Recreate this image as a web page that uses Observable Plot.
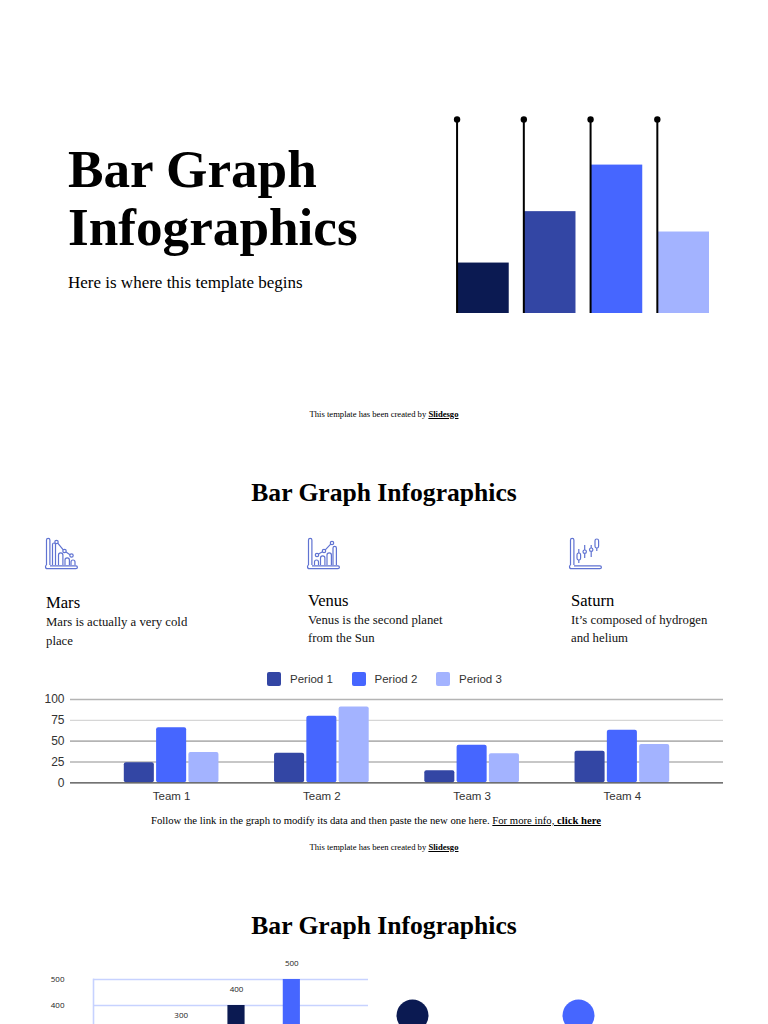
<!DOCTYPE html>
<html>
<head>
<meta charset="utf-8">
<script src="https://cdn.jsdelivr.net/npm/d3@7"></script>
<script src="https://cdn.jsdelivr.net/npm/@observablehq/plot@0.6"></script>
<style>
html,body{margin:0;padding:0;background:#fff;}
#page{position:relative;width:768px;height:1024px;overflow:hidden;background:#fff;font-family:"Liberation Serif",serif;color:#000;}
.t{position:absolute;white-space:nowrap;line-height:1;}
.c{left:0;width:768px;text-align:center;}
.chart{position:absolute;}
.chart svg{display:block;}
.sw{position:absolute;width:14px;height:14px;border-radius:2px;top:672px;}
.lg{position:absolute;top:671.5px;font:11.5px/14px "Liberation Sans",sans-serif;color:#333;white-space:nowrap;}
u{text-underline-offset:1px;}
.ic{position:absolute;fill:none;stroke:#6073d2;stroke-width:1.2;}
</style>
</head>
<body>
<div id="page">
  <div class="t" style="left:68px;top:141px;font-size:53.2px;font-weight:bold;line-height:58px;">Bar Graph<br>Infographics</div>
  <div class="t" style="left:68px;top:274px;font-size:17px;">Here is where this template begins</div>
  <div class="t c" style="top:410px;font-size:8.6px;">This template has been created by <b><u>Slidesgo</u></b></div>

  <div class="t c" style="top:480px;font-size:25.6px;font-weight:bold;">Bar Graph Infographics</div>

  <svg class="ic" style="left:44px;top:536px" width="36" height="36" viewBox="0 0 36 36">
    <path d="M2.5 29V4a1.7 1.7 0 0 1 3.4 0V29"/><path d="M2.5 29a2 2 0 0 0-1 1.7 2 2 0 0 0 2 2H32a1.4 1.4 0 0 0 0-2.8H6"/>
    <path d="M8.5 29V8.5a1.5 1.5 0 0 1 3 0V29M14.5 29V19a2.2 2.2 0 0 1 4.4 0V29M21 29V24a2.2 2.2 0 0 1 4.4 0V29M27 29V26a2 2 0 0 1 4 0V29"/>
    <circle cx="12.5" cy="6" r="1.7"/><circle cx="20.5" cy="15" r="1.7"/><circle cx="27.5" cy="19.5" r="1.7"/><path d="M13.7 7.2 19.3 13.8M22 16 26 18.7"/>
  </svg>
  <svg class="ic" style="left:306px;top:536px" width="36" height="36" viewBox="0 0 36 36">
    <path d="M2.5 29V4a1.7 1.7 0 0 1 3.4 0V29"/><path d="M2.5 29a2 2 0 0 0-1 1.7 2 2 0 0 0 2 2H32a1.4 1.4 0 0 0 0-2.8H6"/>
    <path d="M8.5 29V26a2 2 0 0 1 4 0V29M14.5 29V22a2.2 2.2 0 0 1 4.4 0V29M21 29V19a2.2 2.2 0 0 1 4.4 0V29M27 29V12a1.7 1.7 0 0 1 3.4 0V29"/>
    <circle cx="11" cy="19" r="1.7"/><circle cx="18" cy="15" r="1.7"/><circle cx="26" cy="7" r="1.7"/><path d="M12.5 18 16.5 15.8M19.3 13.8 24.7 8.2"/>
  </svg>
  <svg class="ic" style="left:568px;top:536px" width="36" height="36" viewBox="0 0 36 36">
    <path d="M2.5 29V4a1.7 1.7 0 0 1 3.4 0V29"/><path d="M2.5 29a2 2 0 0 0-1 1.7 2 2 0 0 0 2 2H32a1.4 1.4 0 0 0 0-2.8H6"/>
    <rect x="9" y="17" width="3.6" height="7" rx="1.8"/><path d="M10.8 13V17M10.8 24V27"/>
    <rect x="15" y="14" width="3.4" height="3.4" rx="1.7"/><path d="M16.7 9V14M16.7 17.4V22"/>
    <rect x="21.5" y="12" width="3.4" height="3.4" rx="1.7"/><path d="M23.2 9V12M23.2 15.4V21"/>
    <rect x="27" y="3" width="3.6" height="9" rx="1.8"/><path d="M28.8 12V15"/>
  </svg>

  <div class="t" style="left:46px;top:595px;font-size:16.6px;">Mars</div>
  <div class="t" style="left:46px;top:613px;font-size:12.75px;line-height:18.6px;color:#111;">Mars is actually a very cold<br>place</div>
  <div class="t" style="left:308px;top:593px;font-size:16.6px;">Venus</div>
  <div class="t" style="left:308px;top:611px;font-size:12.75px;line-height:18px;color:#111;">Venus is the second planet<br>from the Sun</div>
  <div class="t" style="left:571px;top:593px;font-size:16.6px;">Saturn</div>
  <div class="t" style="left:571px;top:611px;font-size:12.75px;line-height:18px;color:#111;">It’s composed of hydrogen<br>and helium</div>

  <div id="legend"></div>

  <div class="t" style="left:151px;top:815px;font-size:10.7px;">Follow the link in the graph to modify its data and then paste the new one here. <u>For more info, <b>click here</b></u></div>
  <div class="t c" style="top:843px;font-size:8.6px;">This template has been created by <b><u>Slidesgo</u></b></div>

  <div class="t c" style="top:913px;font-size:25.6px;font-weight:bold;">Bar Graph Infographics</div>
</div>
<script>
// ---- data ----
const heroCategories = ["A", "B", "C", "D"];
const heroValues = [26, 52.5, 76.5, 42];
const heroStem = 100;
const heroColors = ["#0b1a52", "#3346a4", "#4666ff", "#a3b3ff"];

const teams = ["Team 1", "Team 2", "Team 3", "Team 4"];
const periods = ["Period 1", "Period 2", "Period 3"];
const period1 = [24, 35.5, 14.5, 38];
const period2 = [66, 80, 45, 63];
const period3 = [36.5, 91, 35, 46];
const periodColors = ["#3346a4", "#4666ff", "#a3b3ff"];
const yTicks = [0, 25, 50, 75, 100];

const lowerCategories = ["300", "400", "500"];
const lowerValues = [300, 400, 500];
const lowerColors = ["#a3b3ff", "#0b1a52", "#4666ff"];
const lowerTicks = [400, 500];

const circleLabels = ["Left", "Right"];
const circleColors = ["#0b1a52", "#4666ff"];

// ---- helpers ----
const page = document.getElementById("page");
function place(node, left, top) {
  const box = document.createElement("div");
  box.className = "chart";
  box.style.left = left + "px";
  box.style.top = top + "px";
  box.appendChild(node);
  page.appendChild(box);
}

// ---- hero bars ----
place(Plot.plot({
  width: 280, height: 215,
  marginLeft: 17, marginRight: 11, marginTop: 14, marginBottom: 7,
  style: {background: "transparent"},
  x: {domain: heroCategories, axis: null, paddingInner: 0.225, paddingOuter: 0, align: 0, round: false},
  y: {domain: [0, heroStem], axis: null},
  color: {domain: heroCategories, range: heroColors},
  marks: [
    Plot.barY(heroCategories, {x: d => d, y: (d, i) => heroValues[i], fill: d => d}),
    Plot.ruleX(heroCategories, {x: d => d, y1: 0, y2: heroStem, dx: -26.3, stroke: "#000", strokeWidth: 2}),
    Plot.dot(heroCategories, {x: d => d, y: () => heroStem, dx: -26.3, r: 3.2, fill: "#000", stroke: "none"})
  ]
}), 440, 105);

// ---- team chart ----
const rows = teams.flatMap((team, i) => [
  {team, period: periods[0], value: period1[i]},
  {team, period: periods[1], value: period2[i]},
  {team, period: periods[2], value: period3[i]}
]);
const barFor = (p, dx, fill) => Plot.barY(rows.filter(r => r.period === p), {
  x: "team", y: "value", dx, fill, rx: 2
});
place(Plot.plot({
  width: 768, height: 115,
  marginLeft: 70, marginRight: 45, marginTop: 9, marginBottom: 22.7,
  style: {background: "transparent", fontFamily: "'Liberation Sans',sans-serif", fontSize: "11.5px", color: "#333"},
  x: {domain: teams, range: [96, 697], paddingInner: 0.8, paddingOuter: 0.4, label: null, round: false},
  y: {domain: [0, 100], label: null},
  marks: [
    Plot.ruleY(yTicks.filter(t => t !== 0 && t !== 75), {stroke: "#b4b4b4", strokeWidth: 1.6}),
    Plot.ruleY(yTicks.filter(t => t === 75), {stroke: "#d6d6d6", strokeWidth: 1.2}),
    barFor(periods[0], -32.3, periodColors[0]),
    barFor(periods[1], 0, periodColors[1]),
    barFor(periods[2], 32.3, periodColors[2]),
    Plot.ruleY([0], {stroke: "#444", strokeWidth: 1.2}),
    Plot.axisY({ticks: yTicks, tickSize: 0, tickPadding: 6, label: null, fill: "#333", fontSize: 12}),
    Plot.axisX({tickSize: 0, tickPadding: 9, label: null, fill: "#333"})
  ]
}), 0, 690);

// ---- legend ----
const legend = document.getElementById("legend");
const legendSwatchX = [267, 351.5, 436];
periods.forEach((p, i) => {
  const s = document.createElement("div");
  s.className = "sw";
  s.style.left = legendSwatchX[i] + "px";
  s.style.background = periodColors[i];
  legend.appendChild(s);
  const l = document.createElement("div");
  l.className = "lg";
  l.style.left = (legendSwatchX[i] + 23) + "px";
  l.textContent = p;
  legend.appendChild(l);
});

// ---- lower chart (cut by page edge) ----
place(Plot.plot({
  width: 400, height: 74,
  marginLeft: 93, marginRight: 32, marginTop: 29, marginBottom: 0,
  style: {background: "transparent", fontFamily: "'Open Sans',sans-serif", fontSize: "8px", color: "#222"},
  x: {domain: lowerCategories, range: [153, 319], paddingInner: 0.69, paddingOuter: 0.345, axis: null, round: false},
  y: {domain: [0, 500], range: [159, 29], axis: null},
  color: {domain: lowerCategories, range: lowerColors},
  marks: [
    Plot.ruleY(lowerTicks, {stroke: "#c7d2ff", strokeWidth: 1.6}),
    Plot.frame({anchor: "left", stroke: "#c7d2ff", strokeWidth: 1.6}),
    Plot.barY(lowerCategories, {x: d => d, y: (d, i) => lowerValues[i], fill: d => d, clip: "frame"}),
    Plot.text(lowerCategories, {x: d => d, y: (d, i) => lowerValues[i], text: d => d, dy: -16, fill: "#222"}),
    Plot.axisY({anchor: "left", ticks: lowerTicks, tickSize: 0, tickPadding: 29, label: null, fill: "#222"})
  ]
}), 0, 950);

// ---- lower circles ----
place(Plot.plot({
  width: 260, height: 74,
  margin: 0,
  style: {background: "transparent"},
  x: {domain: circleLabels, range: [-51, 281], axis: null},
  y: {axis: null, domain: [0, 1], range: [65, 65]},
  color: {domain: circleLabels, range: circleColors},
  marks: [
    Plot.dot(circleLabels, {x: d => d, y: () => 0, r: 16, fill: d => d, stroke: "none"})
  ]
}), 380, 950);
</script>
</body>
</html>
